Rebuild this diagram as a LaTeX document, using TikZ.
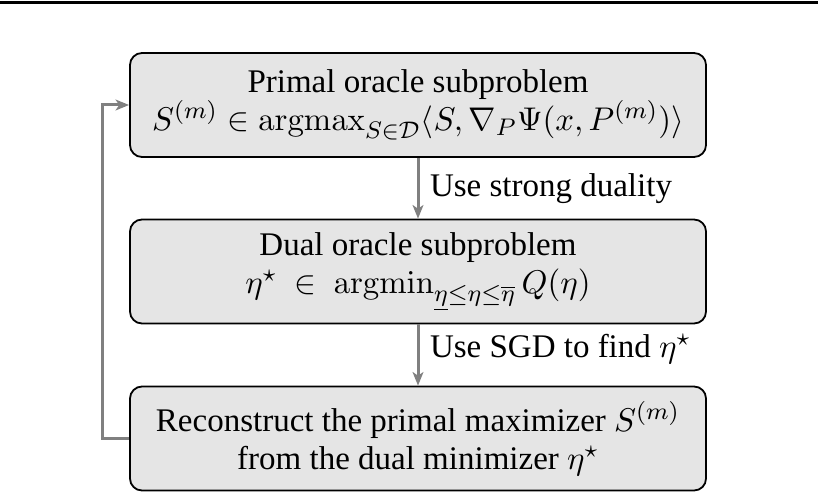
\documentclass[tikz,border=0pt]{standalone}
\usepackage{amsmath,amssymb}
\usepackage[no-math]{fontspec}
\setmainfont{Liberation Serif}
\usetikzlibrary{arrows.meta}
\tikzset{
  every node/.style={font=\fontsize{11}{12.7}\selectfont},
  stagebox/.style={draw=black, line width=0.6pt, fill=gray!20, rounded corners=4pt,
    minimum width=192pt, minimum height=34.67pt, inner sep=0pt, align=center},
  flowarrow/.style={draw=gray, line width=1pt, -{Stealth[length=4.5pt,width=3.6pt,inset=1.2pt]}},
  steplabel/.style={anchor=west, inner sep=0pt}
}
\begin{document}
\begin{tikzpicture}[x=0.33333pt,y=-0.33333pt]
\useasboundingbox (0,0) rectangle (818,495);
\draw[line width=0.7pt] (0,2.5) coordinate (rl) -- (818,2.5) coordinate (rr);
\node[stagebox] (b1) at (418,105) {Primal oracle subproblem\\
  $S^{(m)}\in\operatorname{argmax}_{S\in\mathcal{D}}\langle S,\nabla_P\Psi(x,P^{(m)})\rangle$};
\node[stagebox] (b2) at (418,271.5) {Dual oracle subproblem\\
  $\eta^\star\ \in\ \operatorname{argmin}_{\underline{\eta}\le\eta\le\overline{\eta}}Q(\eta)$};
\node[stagebox] (b3) at (418,438.5) {Reconstruct the primal maximizer $S^{(m)}$\\
  from the dual minimizer $\eta^\star$};
\draw[flowarrow] (b1.south) -- (b2.north) node[midway, right=3.5pt, steplabel] (l1) {Use strong duality};
\draw[flowarrow] (b2.south) -- (b3.north) node[midway, right=3.5pt, steplabel, yshift=2pt] (l2) {Use SGD to find $\eta^\star$};
\draw[flowarrow] (b3.west) -- ++(-27,0) |- (b1.west);
\end{tikzpicture}
\end{document}
